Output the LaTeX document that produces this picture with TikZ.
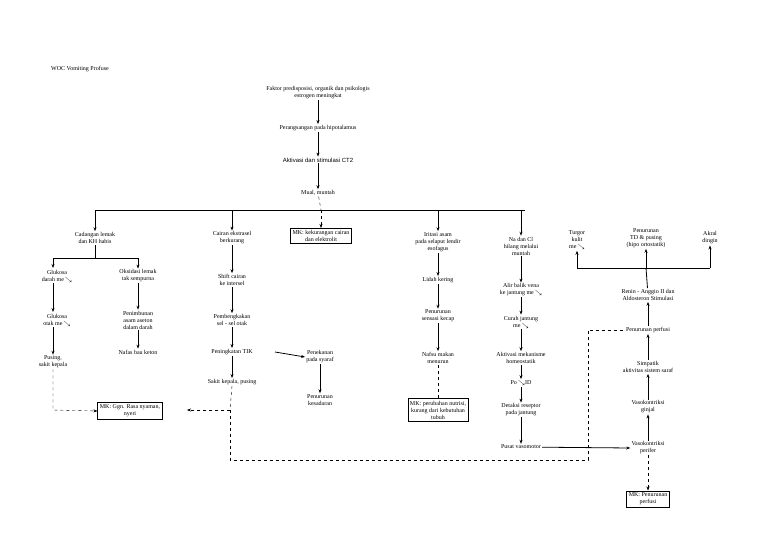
\documentclass[tikz,border=0pt]{standalone}
\usepackage{fontspec}
\setmainfont{Liberation Serif}
\newfontfamily\sansf{Liberation Sans}
\usetikzlibrary{arrows.meta}
\begin{document}
\begin{tikzpicture}[x=1pt,y=-1pt,
  t/.style={align=center,font=\fontsize{6}{7}\selectfont,inner sep=1pt},
  mk/.style={t,draw,thick,inner sep=2pt},
  a/.style={-{Stealth[length=4pt,width=3pt]},thick},
  ln/.style={thick},
  d/.style={dashed,thin},
  da/.style={dashed,thin,-{Stealth[length=4pt,width=3pt]}}]
\newcommand{\dn}{\,$\searrow$}
\useasboundingbox (0,0) rectangle (768,543);
\node[t,anchor=west] (title) at (50,69) {WOC Vomiting Profuse};
\node[t] (fak) at (318,93) {Faktor predisposisi, organik dan psikologis\\estrogen meningkat};
\node[t] (per) at (318,128) {Perangsangan pada hipotalamus};
\node[t,font=\fontsize{6}{7}\sansf] (akt) at (318,160) {Aktivasi dan stimulasi CT2};
\node[t] (mual) at (318,193) {Mual, muntah};
\draw[a] (fak) -- (per); \draw[a] (per) -- (akt); \draw[a] (akt) -- (mual);
\coordinate (hb) at (321,210);
\draw[d] (mual) -- (hb);
\draw[ln] (95,210) -- (525,210);
\node[t] (cad) at (95,238) {Cadangan lemak\\dan KH habis};
\node[t] (cai) at (232,238) {Cairan ekstrasel\\berkurang};
\node[mk] (mk1) at (321,236) {MK: kekurangan cairan\\dan elektrolit};
\node[t] (iri) at (438,242) {Iritasi asam\\pada selaput lendir\\esofagus};
\node[t] (na) at (521,246) {Na dan Cl\\hilang melalui\\muntah};
\foreach \n/\x in {cad/95,cai/232,iri/438,na/521} \draw[a] (\x,210) -- (\n);
\draw[da] (hb) -- (mk1);
% left column
\node[t] (gd) at (57,276) {Glukosa\\darah me\dn};
\node[t] (oks) at (138,276) {Oksidasi lemak\\tak sempurna};
\draw[ln] (cad) -- (95,258); \draw[ln] (53,258) -- (138,258);
\draw[a] (53,258) -- (53,268); \draw[a] (138,258) -- (oks);
\node[t] (go) at (57,320) {Glukosa\\otak me\dn};
\node[t] (pus) at (53,362) {Pusing,\\sakit kepala};
\draw[a] (53,283) -- (53,312); \draw[a] (53,327) -- (pus);
\node[t] (pen) at (138,320) {Penimbunan\\asam aseton\\dalam darah};
\node[t] (naf) at (138,352) {Nafas bau keton};
\draw[a] (oks) -- (pen); \draw[a] (pen) -- (naf);
\node[mk] (mk2) at (130,411) {MK: Ggn. Rasa nyaman,\\nyeri};
\draw[da] (pus.south) -- (53,410) -- (mk2.west);
% cairan column
\node[t] (shi) at (232,280) {Shift cairan\\ke intersel};
\node[t] (pem) at (232,320) {Pembengkakan\\sel - sel otak};
\node[t] (tik) at (232,352) {Peningkatan TIK};
\node[t] (sak) at (232,382) {Sakit kepala, pusing};
\draw[a] (cai) -- (shi); \draw[a] (shi) -- (pem); \draw[a] (pem) -- (tik); \draw[a] (tik) -- (sak);
\node[t] (pek) at (320,357) {Penekanan\\pada syaraf};
\node[t] (kes) at (320,400) {Penurunan\\kesadaran};
\draw[a] (275,352) -- (pek.west); \draw[a] (pek) -- (kes);
\coordinate (sb) at (230,410);
\draw[d] (sak.south) -- (sb);
\draw[da] (sb) -- (187,410);
% iritasi column
\node[t] (lid) at (438,280) {Lidah kering};
\node[t] (sen) at (438,316) {Penurunan\\sensasi kecap};
\node[t] (nfs) at (438,358) {Nafsu makan\\menurun};
\node[mk] (mk3) at (438,410) {MK: perubahan nutrisi,\\kurang dari kebutuhan\\tubuh};
\draw[a] (iri) -- (lid); \draw[a] (lid) -- (sen); \draw[a] (sen) -- (nfs); \draw[d] (nfs) -- (mk3);
% Na column
\node[t] (ali) at (521,290) {Alir balik vena\\ke jantung me\dn};
\node[t] (cur) at (521,322) {Curah jantung\\me\dn};
\node[t] (akm) at (521,358) {Aktivasi mekanisme\\homeostatik};
\node[t] (po) at (521,383) {Po\dn ID};
\node[t] (det) at (521,410) {Detaksi reseptor\\pada jantung};
\node[t] (pvm) at (521,447) {Pusat vasomotor};
\draw[a] (na) -- (ali); \draw[a] (ali) -- (cur); \draw[a] (cur) -- (akm); \draw[a] (akm) -- (po); \draw[a] (po) -- (det); \draw[a] (det) -- (pvm);
% right column
\node[t] (vp) at (648,448) {Vasokontriksi\\perifer};
\node[t] (vg) at (648,407) {Vasokontriksi\\ginjal};
\node[t] (sim) at (648,367) {Simpatik\\aktivitas sistem saraf};
\node[t] (pp) at (648,330) {Penurunan perfusi};
\node[t] (ren) at (648,295) {Renin - Anggio II dan\\Aldosteron Stimulasi};
\draw[a] (pvm) -- (vp.west);
\draw[a] (vp) -- (vg); \draw[a] (vg) -- (sim); \draw[a] (sim) -- (pp); \draw[a] (pp) -- (ren);
\node[t] (tur) at (577,240) {Turgor\\kulit\\me\dn};
\node[t] (td) at (646,238) {Penurunan\\TD \& pusing\\(hipo ortostatik)};
\node[t] (akr) at (710,238) {Akral\\dingin};
\draw[ln] (ren) -- (646,268); \draw[ln] (577,268) -- (710,268);
\draw[a] (577,268) -- (tur); \draw[a] (646,268) -- (td); \draw[a] (710,268) -- (akr);
\node[mk] (mk4) at (648,499) {MK: Penurunan\\perfusi};
\draw[da] (vp) -- (mk4);
\draw[d] (sb) -- (230,460) -- (588,460) -- (588,330) -- (pp.west);
\end{tikzpicture}
\end{document}
